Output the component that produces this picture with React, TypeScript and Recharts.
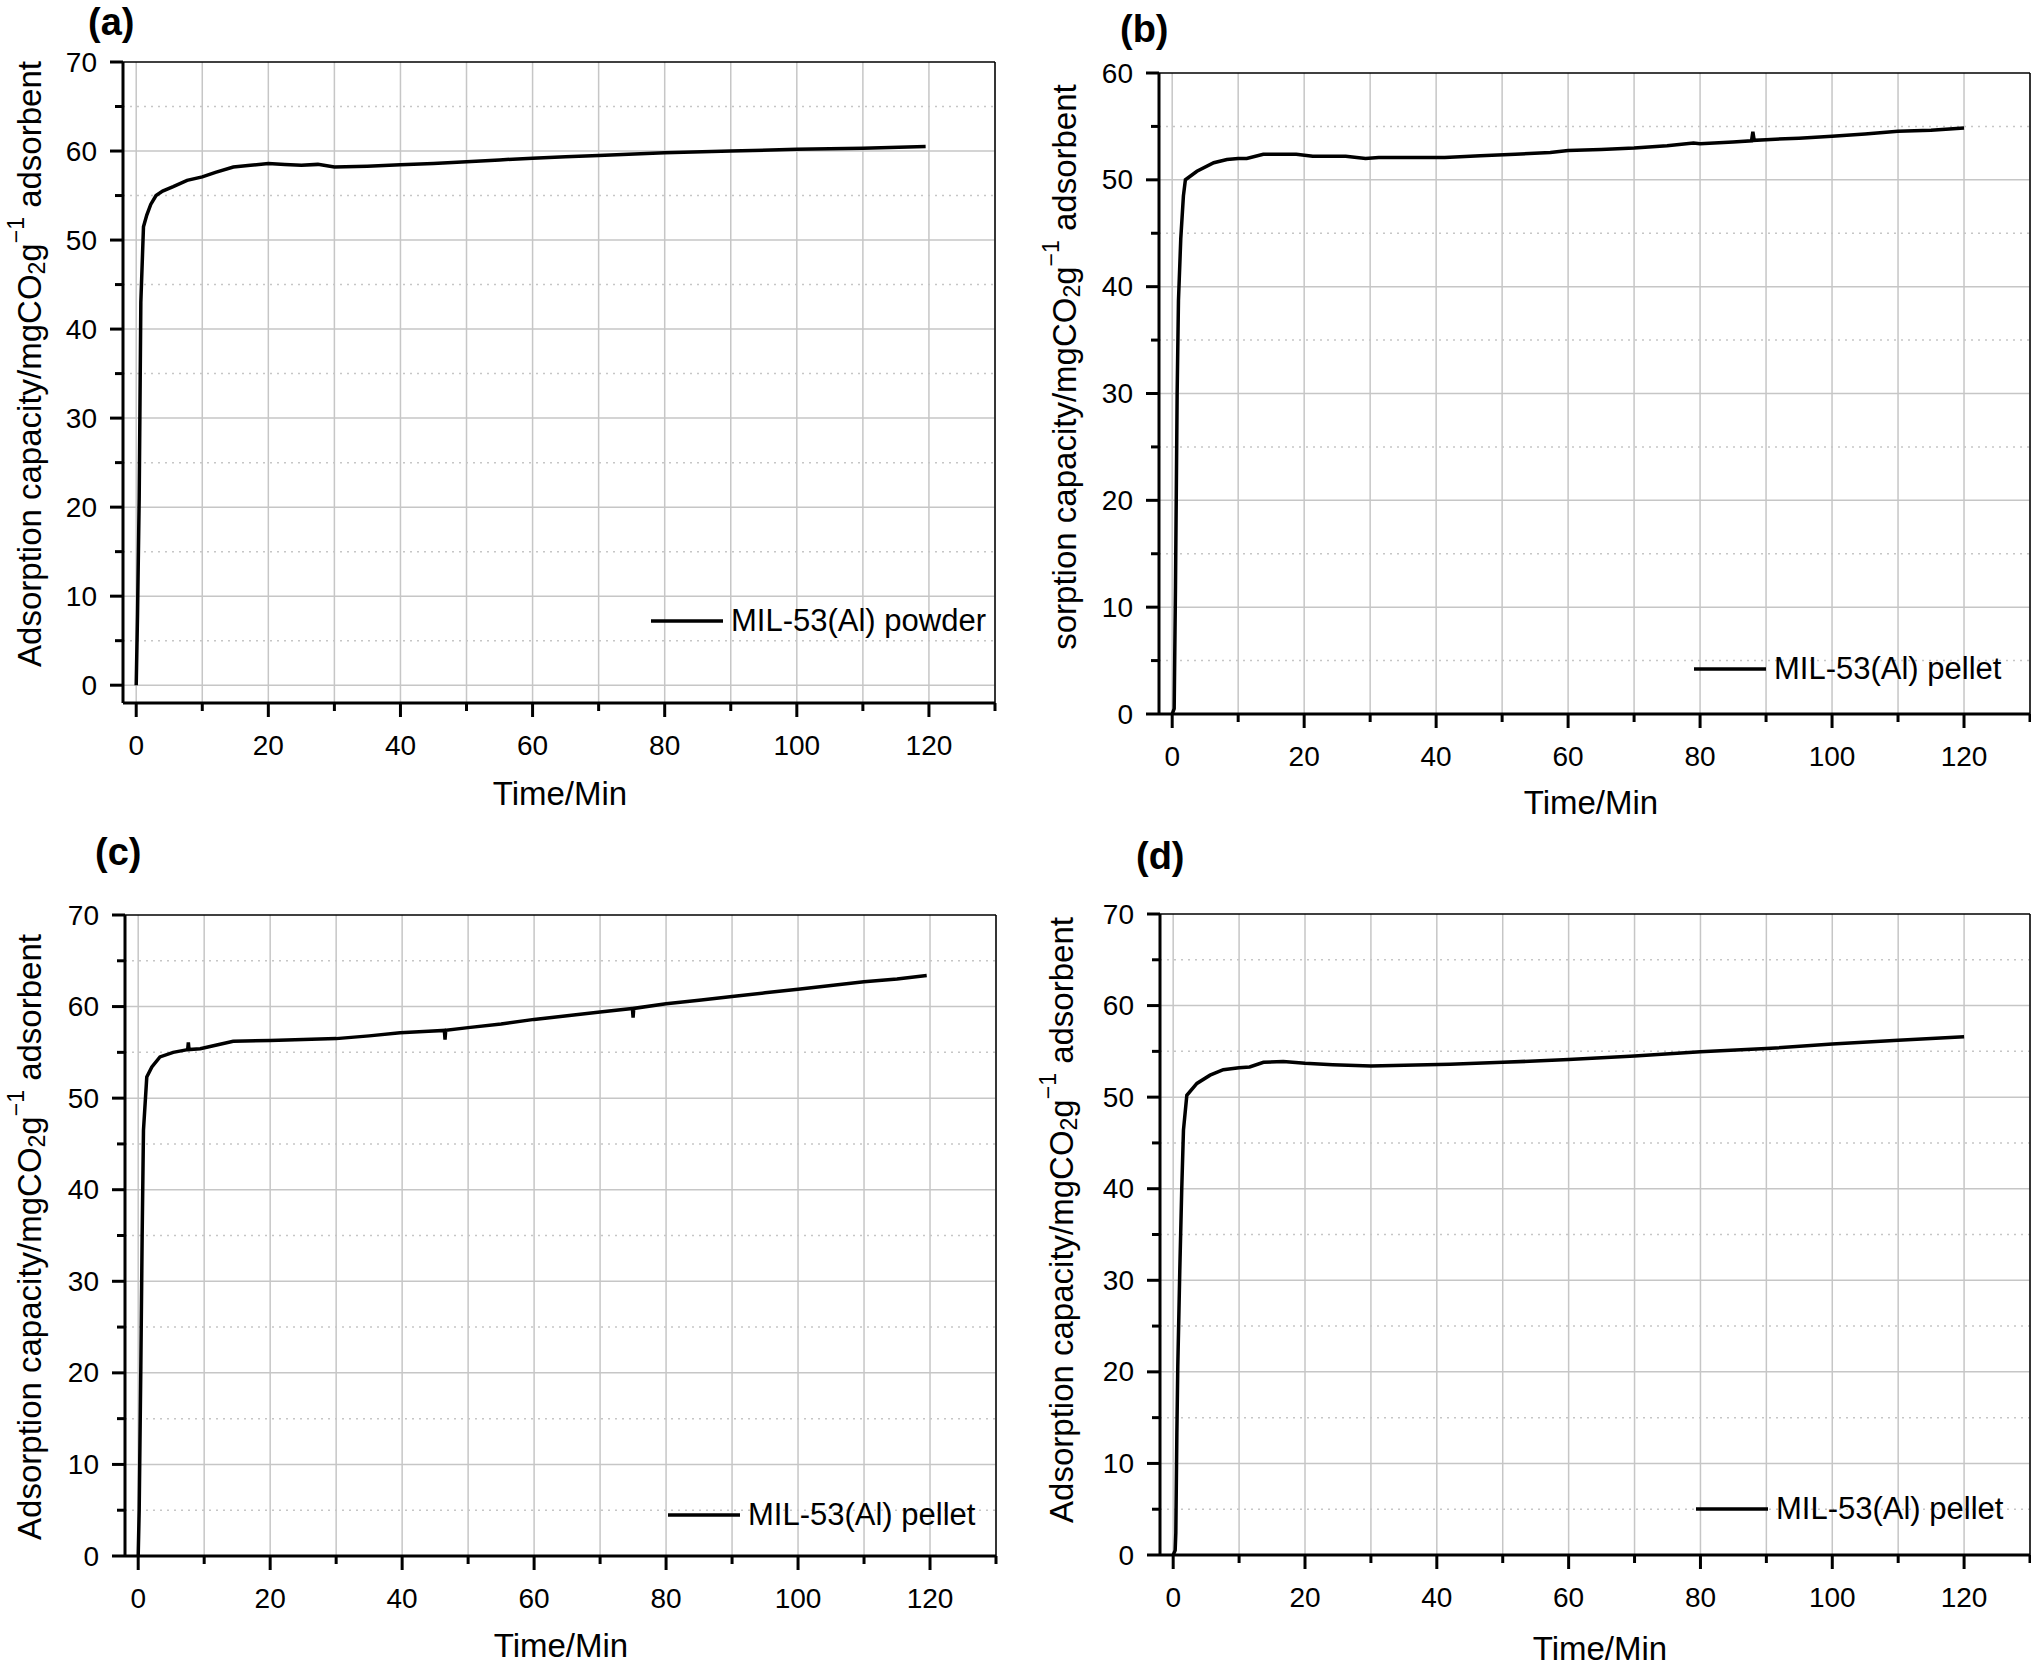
import React from 'react';
import { LineChart, Line, XAxis, YAxis, CartesianGrid, ReferenceLine, Legend } from 'recharts';

const FONT = '"Liberation Sans", Arial, Helvetica, sans-serif';
const GRID = '#c6c6c6';

// (a) MIL-53(Al) powder
const timeA = [0, 0.2, 0.45, 0.7, 1.1, 1.6, 2.2, 3, 4, 5.6, 7.7, 10, 12, 14.7, 17.3, 20, 22.5, 25, 27.5, 30, 35, 40, 45, 50, 55, 60, 65, 70, 80, 90, 100, 110, 119.5];
const capA = [0, 8, 21, 43, 51.5, 52.8, 54, 55, 55.5, 56, 56.7, 57.1, 57.6, 58.2, 58.4, 58.6, 58.5, 58.4, 58.5, 58.2, 58.3, 58.45, 58.6, 58.8, 59.0, 59.2, 59.35, 59.5, 59.8, 60.0, 60.2, 60.3, 60.5];

// (b) MIL-53(Al) pellet
const timeB = [0, 0.3, 0.5, 0.75, 0.95, 1.3, 1.7, 2, 3.75, 6.3, 8.3, 10, 11.3, 13.8, 16.3, 18.8, 21.3, 26.3, 29.3, 31.3, 36.3, 41.3, 46.7, 52, 57.3, 60, 65, 70, 75, 79, 80, 85, 87.8, 88, 88.2, 90, 95, 100, 105, 110, 115, 120];
const capB = [0, 0.5, 12, 30, 38.7, 44.5, 48.5, 50, 50.8, 51.6, 51.9, 52.0, 52.0, 52.4, 52.4, 52.4, 52.2, 52.2, 52.0, 52.1, 52.1, 52.1, 52.25, 52.4, 52.56, 52.75, 52.85, 52.97, 53.2, 53.45, 53.38, 53.55, 53.65, 54.5, 53.7, 53.76, 53.9, 54.07, 54.3, 54.54, 54.65, 54.85];

// (c) MIL-53(Al) pellet
const timeC = [0, 0.15, 0.4, 0.6, 0.8, 1.3, 2.07, 3.3, 5.3, 7.5, 7.6, 7.7, 9.4, 11.9, 14.4, 20, 25, 30, 35, 39.7, 44, 46.4, 46.5, 46.6, 50, 55, 60, 65, 70, 74.9, 75, 75.1, 80, 85, 90, 95, 100, 105, 110, 115, 119.5];
const capC = [0, 5, 20.7, 35, 46.5, 52.3, 53.4, 54.5, 55.0, 55.3, 56.1, 55.3, 55.4, 55.8, 56.2, 56.3, 56.4, 56.5, 56.8, 57.15, 57.3, 57.4, 56.4, 57.4, 57.7, 58.1, 58.6, 59.0, 59.4, 59.8, 58.8, 59.8, 60.3, 60.7, 61.1, 61.5, 61.9, 62.3, 62.7, 63.0, 63.4];

// (d) MIL-53(Al) pellet
const timeD = [0, 0.3, 0.4, 0.56, 0.7, 1.0, 1.3, 1.56, 2.07, 3.6, 5.6, 7.6, 10, 11.6, 13.7, 16.7, 20, 24.2, 30, 36.8, 42, 50, 60, 70, 80, 90, 100, 110, 120];
const capD = [0, 0.5, 2.4, 13.4, 20.6, 31, 40, 46.4, 50.2, 51.5, 52.4, 53.0, 53.2, 53.3, 53.8, 53.9, 53.7, 53.55, 53.4, 53.5, 53.6, 53.8, 54.1, 54.5, 54.95, 55.3, 55.8, 56.2, 56.6];

const xTicks = [0, 10, 20, 30, 40, 50, 60, 70, 80, 90, 100, 110, 120, 130];
const yTicks70 = [0, 5, 10, 15, 20, 25, 30, 35, 40, 45, 50, 55, 60, 65, 70];
const yTicks60 = [0, 5, 10, 15, 20, 25, 30, 35, 40, 45, 50, 55, 60];

const zip = (xs: number[], ys: number[]) => xs.map((t, i) => ({ t, v: ys[i] }));

// layout in page pixels: box = chart area, plot = inner plot rect
const panels = [
  {
    letter: '(a)', letterPos: [88, 3], name: 'MIL-53(Al) powder', data: zip(timeA, capA),
    box: [0, 0, 1040, 833], plot: [123, 62, 995, 703], yDomain: [-2, 70], yTicks: yTicks70,
    legend: [651, 621], yTitle: [29, 364], yLead: 'Adsorption', xTitle: [560, 793],
  },
  {
    letter: '(b)', letterPos: [1120, 10], name: 'MIL-53(Al) pellet', data: zip(timeB, capB),
    box: [1015, 0, 2031, 833], plot: [1159, 73, 2030, 714], yDomain: [0, 60], yTicks: yTicks60,
    legend: [1694, 669], yTitle: [1064, 367], yLead: 'sorption', xTitle: [1591, 802],
  },
  {
    letter: '(c)', letterPos: [95, 833], name: 'MIL-53(Al) pellet', data: zip(timeC, capC),
    box: [0, 833, 1040, 1666], plot: [125, 915, 996, 1556], yDomain: [0, 70], yTicks: yTicks70,
    legend: [668, 1515], yTitle: [29, 1237], yLead: 'Adsorption', xTitle: [561, 1645],
  },
  {
    letter: '(d)', letterPos: [1136, 837], name: 'MIL-53(Al) pellet', data: zip(timeD, capD),
    box: [1015, 833, 2031, 1666], plot: [1160, 914, 2030, 1555], yDomain: [0, 70], yTicks: yTicks70,
    legend: [1696, 1509], yTitle: [1061, 1220], yLead: 'Adsorption', xTitle: [1600, 1648],
  },
];

function XTick(props: any) {
  const { x, y, payload } = props;
  const v = payload.value;
  const major = v % 20 === 0 && v <= 120;
  return (
    <g>
      <line x1={x} x2={x} y1={y} y2={y + (major ? 14 : 8)} stroke="#000" strokeWidth={3} />
      {major && (
        <text x={x} y={y + 42} textAnchor="middle" dominantBaseline="central" fontFamily={FONT} fontSize={28} fill="#000">
          {v}
        </text>
      )}
    </g>
  );
}

function YTick(props: any) {
  const { x, y, payload } = props;
  const v = payload.value;
  const major = v % 10 === 0;
  return (
    <g>
      <line x1={x - (major ? 13 : 8)} x2={x} y1={y} y2={y} stroke="#000" strokeWidth={3} />
      {major && (
        <text x={x - 26} y={y} textAnchor="end" dominantBaseline="central" fontFamily={FONT} fontSize={28} fill="#000">
          {v}
        </text>
      )}
    </g>
  );
}

function renderLegend(props: any) {
  const { payload } = props;
  return (
    <div style={{ display: 'flex', alignItems: 'center', height: 40, fontFamily: FONT, fontSize: 31, color: '#000' }}>
      {(payload || []).map((e: any) => (
        <React.Fragment key={e.value}>
          <svg width={72} height={6}>
            <line x1={0} x2={72} y1={3} y2={3} stroke="#000" strokeWidth={3.5} />
          </svg>
          <span style={{ marginLeft: 8, whiteSpace: 'nowrap' }}>{e.value}</span>
        </React.Fragment>
      ))}
    </div>
  );
}

function Panel({ cfg }: { cfg: any }) {
  const [bl, bt, br, bb] = cfg.box;
  const [pl, pt, pr, pb] = cfg.plot;
  const yMax = cfg.yTicks[cfg.yTicks.length - 1];
  const major = cfg.yTicks.filter((v: number) => v % 10 === 0 && v < yMax);
  const minor = cfg.yTicks.filter((v: number) => v % 10 !== 0);
  const [ytx, yty] = [cfg.yTitle[0] - bl, cfg.yTitle[1] - bt];
  const [xtx, xty] = [cfg.xTitle[0] - bl, cfg.xTitle[1] - bt];

  return (
    <div style={{ position: 'absolute', left: bl, top: bt }}>
      <LineChart
        width={br - bl}
        height={bb - bt}
        data={cfg.data}
        margin={{ left: pl - bl - 1, top: pt - bt, right: br - pr, bottom: bb - pb - 1 }}
      >
        <CartesianGrid horizontal={false} stroke={GRID} strokeWidth={1.5} />
        {major.map((v: number) => (
          <ReferenceLine key={'M' + v} y={v} stroke={GRID} strokeWidth={1.5} />
        ))}
        {minor.map((v: number) => (
          <ReferenceLine key={'m' + v} y={v} stroke={GRID} strokeWidth={1.5} strokeDasharray="2 5" />
        ))}
        <ReferenceLine y={yMax} stroke="#000" strokeWidth={1.5} />
        <ReferenceLine x={130} stroke="#000" strokeWidth={1.5} />
        <XAxis
          type="number"
          dataKey="t"
          domain={[-2, 130]}
          ticks={xTicks}
          interval={0}
          allowDataOverflow
          height={1}
          tickSize={0}
          tickMargin={0}
          tickLine={false}
          axisLine={{ stroke: '#000', strokeWidth: 3 }}
          tick={(p: any) => <XTick {...p} />}
          label={{
            content: () => (
              <text x={xtx} y={xty} textAnchor="middle" dominantBaseline="central" fontFamily={FONT} fontSize={33} fill="#000">
                Time/Min
              </text>
            ),
          }}
        />
        <YAxis
          type="number"
          domain={cfg.yDomain}
          ticks={cfg.yTicks}
          interval={0}
          allowDataOverflow
          width={1}
          tickSize={0}
          tickMargin={0}
          tickLine={false}
          axisLine={{ stroke: '#000', strokeWidth: 3 }}
          tick={(p: any) => <YTick {...p} />}
          label={{
            content: () => (
              <text
                x={ytx}
                y={yty}
                transform={`rotate(-90 ${ytx} ${yty})`}
                textAnchor="middle"
                dominantBaseline="central"
                fontFamily={FONT}
                fontSize={33}
                fill="#000"
              >
                {cfg.yLead} capacity/mgCO<tspan dy={8} fontSize={23}>2</tspan>
                <tspan dy={-8}>g</tspan>
                <tspan dy={-13} fontSize={23}>−1</tspan>
                <tspan dy={13}> adsorbent</tspan>
              </text>
            ),
          }}
        />
        <Line
          type="linear"
          dataKey="v"
          name={cfg.name}
          stroke="#000"
          strokeWidth={3.5}
          dot={false}
          isAnimationActive={false}
        />
        <Legend
          layout="vertical"
          align="center"
          verticalAlign="middle"
          content={renderLegend}
          wrapperStyle={{ left: cfg.legend[0] - bl, top: cfg.legend[1] - bt - 20, width: 'auto', height: 40 }}
        />
      </LineChart>
    </div>
  );
}

export default function App() {
  return (
    <div style={{ position: 'absolute', left: 0, top: 0, width: 2031, height: 1666, background: '#fff', overflow: 'hidden' }}>
      {panels.map((cfg) => (
        <React.Fragment key={cfg.letter}>
          <Panel cfg={cfg} />
          <div
            style={{
              position: 'absolute',
              left: cfg.letterPos[0],
              top: cfg.letterPos[1],
              fontFamily: FONT,
              fontWeight: 'bold',
              fontSize: 38,
              lineHeight: '38px',
              color: '#000',
            }}
          >
            {cfg.letter}
          </div>
        </React.Fragment>
      ))}
    </div>
  );
}
